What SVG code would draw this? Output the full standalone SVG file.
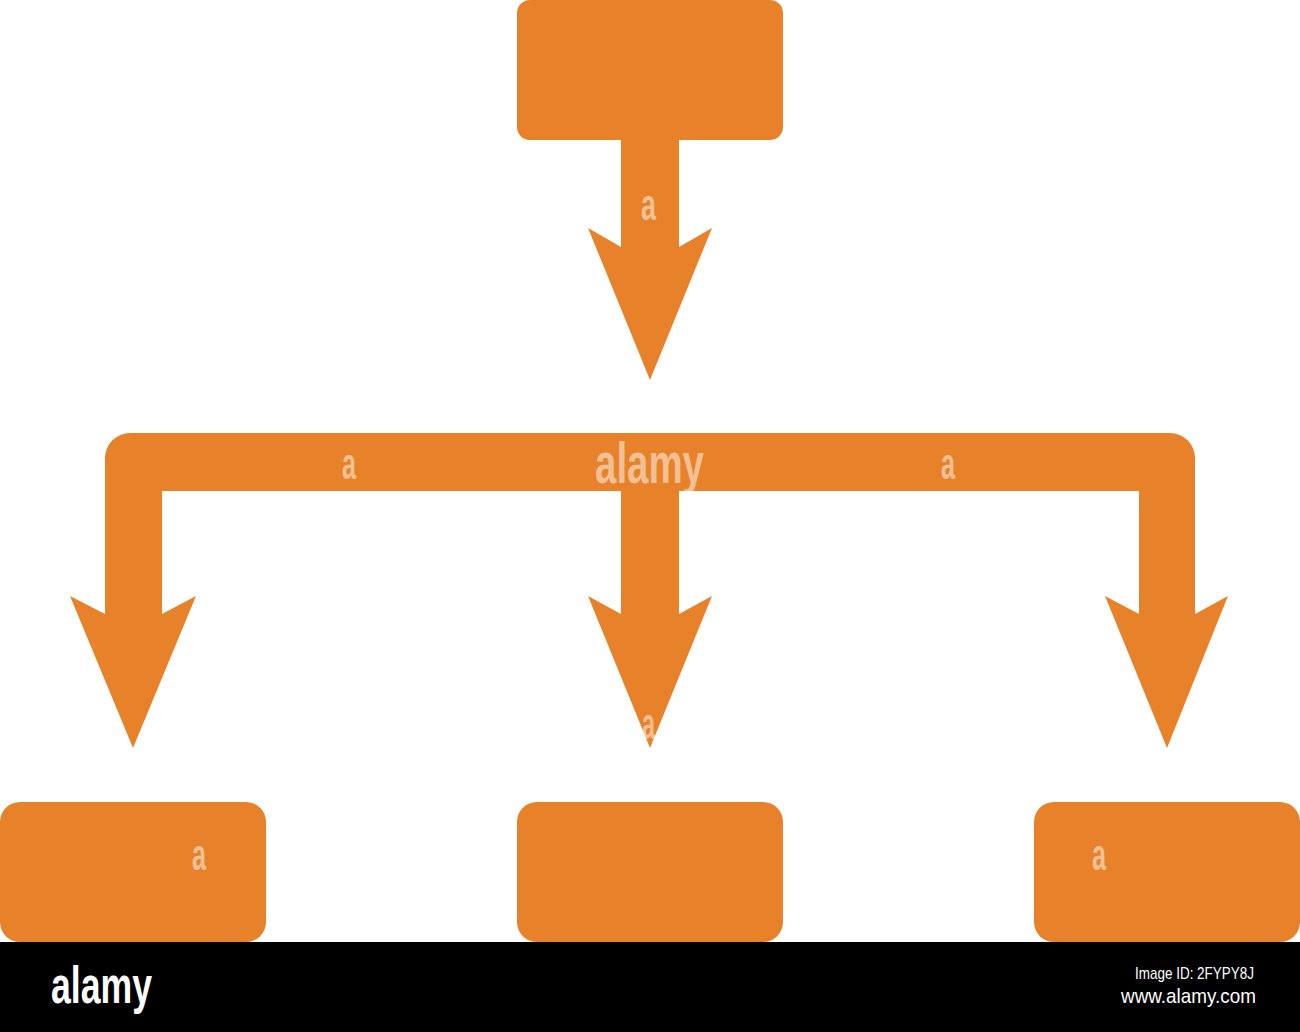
<svg xmlns="http://www.w3.org/2000/svg" width="1300" height="1032" viewBox="0 0 1300 1032">
<style>
.o{fill:#E7822A}
.wm{fill:#FFFFFF;fill-opacity:0.5;font-family:"Liberation Sans",Arial,sans-serif;font-weight:bold}
.a{font-size:44px}
.ft{fill:#FFFFFF;font-family:"Liberation Sans",Arial,sans-serif}
</style>
<rect x="0" y="0" width="1300" height="1032" fill="#FFFFFF"/>
<g id="connectors">
<path class="o" d="M621,138 L621,247 L588,228 L650,380 L712,228 L679,247 L679,138 Z"/>
<path class="o" d="M105,458 A25,25 0 0 1 130,433 L1170,433 A25,25 0 0 1 1195,458 L1195,614 L1228,596 L1167,748 L1105,596 L1139,614 L1139,491 L679,491 L679,614 L712,596 L650,748 L588,596 L621,614 L621,491 L162,491 L162,614 L196,596 L133,748 L70,596 L105,614 Z"/>
</g>
<g id="node-top"><rect class="o" x="517" y="0" width="266" height="140" rx="13"/></g>
<g id="node-left"><rect class="o" x="0" y="802" width="266" height="140" rx="20"/></g>
<g id="node-middle"><rect class="o" x="517" y="802" width="266" height="140" rx="20"/></g>
<g id="node-right"><rect class="o" x="1034" y="802" width="266" height="140" rx="20"/></g>
<g id="watermarks">
<text class="wm a" x="641" y="220" textLength="15" lengthAdjust="spacingAndGlyphs">a</text>
<text class="wm a" x="342" y="479" textLength="14" lengthAdjust="spacingAndGlyphs">a</text>
<text class="wm a" x="941" y="479" textLength="14" lengthAdjust="spacingAndGlyphs">a</text>
<text class="wm a" x="192" y="870" textLength="14" lengthAdjust="spacingAndGlyphs">a</text>
<text class="wm a" x="1092" y="870" textLength="14" lengthAdjust="spacingAndGlyphs">a</text>
<text class="wm a" x="642" y="739" textLength="13" lengthAdjust="spacingAndGlyphs">a</text>
<text class="wm" x="595" y="483" font-size="57" textLength="109" lengthAdjust="spacingAndGlyphs">alamy</text>
</g>
<g id="footer">
<rect x="0" y="942" width="1300" height="90" fill="#000000"/>
<text class="ft" x="51" y="1003" font-size="52" font-weight="bold" textLength="101" lengthAdjust="spacingAndGlyphs">alamy</text>
<text class="ft" x="1254" y="979" font-size="17" text-anchor="end" textLength="119" lengthAdjust="spacingAndGlyphs">Image ID: 2FYPY8J</text>
<text class="ft" x="1256" y="1003" font-size="21" text-anchor="end" textLength="135" lengthAdjust="spacingAndGlyphs">www.alamy.com</text>
</g>
</svg>
